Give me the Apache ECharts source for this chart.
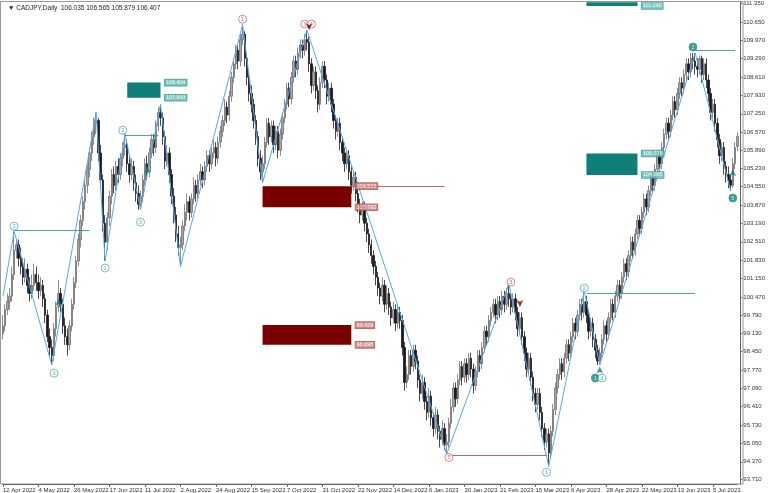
<!DOCTYPE html>
<html><head><meta charset="utf-8">
<script src="https://cdn.jsdelivr.net/npm/echarts@6/dist/echarts.min.js"></script>
<style>html,body{margin:0;padding:0;background:#fff}#c{width:768px;height:493px}</style>
</head><body><div id="c"></div>
<script>
const titleText = '\u25BC CADJPY,Daily  106.035 106.565 105.879 106.407';
const yTicks = [111.350,110.650,109.970,109.290,108.610,107.930,107.250,106.570,105.890,105.230,104.550,103.870,103.190,102.510,101.830,101.150,100.470,99.790,99.130,98.450,97.770,97.090,96.410,95.730,95.050,94.370,93.710];
const holidays = ['2022-12-26'];
// [open, high, low, close]
const bars2022 = [
[99.1,99.8,98.9,99.4],[99.4,100.2,99.2,100.0],[100.0,100.6,99.8,100.3],[100.3,100.8,100.0,100.5],[100.5,101.6,100.3,101.3],
[101.3,102.9,101.1,102.2],[102.2,102.6,101.9,102.4],[102.4,102.6,101.6,101.9],[101.9,102.3,101.3,101.6],[101.6,101.9,100.9,101.2],
[101.2,101.9,101.0,101.5],[101.5,101.7,100.6,100.9],[100.9,101.2,100.3,100.6],[100.6,101.3,100.4,100.9],[100.9,101.7,100.7,101.3],
[101.3,101.6,100.7,101.0],[101.0,101.3,100.4,100.7],[100.7,101.2,100.5,100.9],[100.9,101.1,100.1,100.4],[100.4,100.6,99.5,99.8],
[99.8,100.0,98.8,99.0],[99.0,99.3,98.3,98.6],[98.6,98.9,97.95,98.3],[98.3,99.5,98.1,99.3],[99.3,100.3,99.0,100.1],
[100.1,101.1,99.9,100.6],[100.6,100.8,99.9,100.2],[100.2,100.4,99.1,99.4],[99.4,99.7,98.7,99.0],[99.0,99.3,98.3,98.7],
[98.7,99.6,98.5,99.4],[99.4,100.4,99.2,100.2],[100.2,101.2,100.0,101.0],[101.0,102.0,100.8,101.8],[101.8,102.8,101.6,102.6],
[102.6,103.5,102.3,103.3],[103.3,104.2,103.1,104.0],[104.0,104.8,103.7,104.6],[104.6,105.4,104.3,105.2],[105.2,106.0,104.9,105.8],
[105.8,106.6,105.5,106.4],[106.4,107.1,106.1,106.9],[106.9,107.3,106.5,107.0],[107.0,107.1,105.5,105.8],[105.8,106.1,104.5,104.8],
[104.8,105.0,102.9,103.2],[103.2,103.5,101.8,102.5],[102.5,103.6,102.2,103.4],[103.4,104.4,103.1,104.2],[104.2,105.2,103.9,105.0],
[105.0,105.3,104.3,104.6],[104.6,105.5,104.4,105.3],[105.3,105.6,104.7,105.0],[105.0,105.8,104.8,105.6],[105.6,106.2,105.3,106.0],
[106.0,106.5,105.7,106.1],[106.1,106.3,105.1,105.4],[105.4,105.7,104.7,105.0],[105.0,105.6,104.8,105.3],[105.3,105.5,104.4,104.7],
[104.7,105.0,104.0,104.3],[104.3,104.6,103.7,103.9],[103.9,104.4,103.7,104.2],[104.2,105.0,104.0,104.8],[104.8,105.6,104.6,105.4],
[105.4,105.7,104.8,105.1],[105.1,106.0,104.9,105.8],[105.8,106.5,105.6,106.3],[106.3,106.5,105.7,106.0],[106.0,107.0,105.8,106.8],
[106.8,107.5,106.6,107.3],[107.3,107.6,106.8,107.1],[107.1,107.3,106.1,106.4],[106.4,106.6,105.2,105.5],[105.5,106.1,105.3,105.8],
[105.8,106.0,104.7,105.0],[105.0,105.2,103.9,104.2],[104.2,104.5,103.2,103.5],[103.5,103.8,102.5,102.8],[102.8,103.1,102.0,102.3],
[102.3,102.7,101.6,102.4],[102.4,103.3,102.2,103.1],[103.1,103.9,102.9,103.6],[103.6,104.3,103.3,104.0],[104.0,104.2,103.3,103.6],
[103.6,104.3,103.4,104.1],[104.1,104.9,103.9,104.6],[104.6,104.8,104.0,104.3],[104.3,105.0,104.1,104.8],[104.8,105.4,104.6,105.1],
[105.1,105.3,104.5,104.8],[104.8,105.5,104.6,105.3],[105.3,105.9,105.1,105.7],[105.7,105.9,105.1,105.4],[105.4,106.0,105.2,105.8],
[105.8,106.3,105.6,106.0],[106.0,106.2,105.3,105.6],[105.6,106.4,105.4,106.2],[106.2,106.8,106.0,106.6],[106.6,107.2,106.4,107.0],
[107.0,107.8,106.8,107.5],[107.5,107.7,106.9,107.2],[107.2,108.1,107.0,107.9],[107.9,108.8,107.7,108.6],[108.6,109.3,108.4,109.1],
[109.1,109.8,108.9,109.6],[109.6,109.8,108.9,109.2],[109.2,110.2,109.0,110.0],[110.0,110.55,109.8,110.2],[110.2,110.3,109.0,109.3],
[109.3,109.5,108.3,108.6],[108.6,108.8,107.7,108.0],[108.0,108.3,107.3,107.6],[107.6,107.8,106.7,107.0],[107.0,107.2,106.1,106.4],
[106.4,106.6,105.3,105.6],[105.6,105.9,104.8,105.1],[105.1,105.7,104.7,105.4],[105.4,106.4,105.2,106.2],[106.2,107.1,106.0,106.9],
[106.9,107.1,106.1,106.4],[106.4,107.0,106.2,106.8],[106.8,107.0,105.8,106.1],[106.1,106.8,105.9,106.6],[106.6,106.8,105.6,105.9],
[105.9,106.7,105.7,106.5],[106.5,107.3,106.3,107.1],[107.1,107.8,106.9,107.6],[107.6,108.4,107.4,108.2],[108.2,108.4,107.5,107.8],
[107.8,108.8,107.6,108.6],[108.6,109.4,108.4,109.2],[109.2,109.4,108.6,108.9],[108.9,109.7,108.7,109.5],[109.5,110.0,109.3,109.8],
[109.8,110.0,109.3,109.6],[109.6,110.2,109.4,110.0],[110.0,110.35,109.6,109.9],[109.9,110.1,108.8,109.1],[109.1,109.3,108.0,108.3],
[108.3,109.0,108.1,108.8],[108.8,109.0,107.8,108.1],[108.1,108.3,107.3,107.6],[107.6,108.6,107.4,108.4],[108.4,109.2,108.2,109.0],
[109.0,109.2,108.2,108.5],[108.5,108.7,107.6,107.9],[107.9,108.4,107.7,108.2],[108.2,108.4,107.3,107.6],[107.6,107.8,106.7,107.0],
[107.0,107.2,106.3,106.6],[106.6,107.1,106.4,106.9],[106.9,107.1,105.9,106.2],[106.2,106.4,105.5,105.8],[105.8,106.0,105.1,105.4],
[105.4,105.9,105.2,105.7],[105.7,105.9,104.8,105.1],[105.1,105.3,104.3,104.6],[104.6,105.1,104.4,104.9],[104.9,105.1,104.0,104.3],
[104.3,104.5,103.6,103.9],[103.9,104.1,103.2,103.5],[103.5,104.0,103.3,103.8],[103.8,104.0,102.9,103.2],[103.2,103.4,102.5,102.8],
[102.8,103.0,102.1,102.4],[102.4,102.6,101.7,102.0],[102.0,102.2,101.3,101.6],[101.6,101.8,100.9,101.2],[101.2,101.4,100.5,100.8],
[100.8,101.0,100.2,100.5],[100.5,101.2,100.3,100.9],[100.9,101.1,99.9,100.2],[100.2,100.9,100.0,100.6],[100.6,100.8,99.8,100.1],
[100.1,100.3,99.4,99.7],[99.7,100.3,99.5,100.0],[100.0,100.2,99.2,99.5],[99.5,100.2,99.3,99.9],[99.9,100.1,99.3,99.6],
[99.6,99.8,98.3,98.6],[98.6,98.8,97.0,97.3],[97.3,97.9,97.1,97.6],[97.6,98.5,97.4,98.3],[98.3,98.5,97.6,97.9],
[97.9,98.7,97.7,98.5],[98.5,98.7,97.8,98.1],[98.1,98.3,97.1,97.4]
];
const bars2023 = [
[97.4,97.6,96.6,96.9],[96.9,97.6,96.7,97.3],[97.3,97.5,96.3,96.6],[96.6,96.8,95.9,96.2],[96.2,97.1,96.0,96.8],
[96.8,97.0,95.7,96.0],[96.0,96.2,95.3,95.6],[95.6,96.4,95.4,96.1],[96.1,96.3,95.2,95.5],[95.5,95.7,94.9,95.2],
[95.2,95.9,95.0,95.6],[95.6,95.8,94.8,95.0],[95.0,95.4,94.65,95.1],[95.1,96.0,94.9,95.8],[95.8,96.7,95.6,96.4],
[96.4,97.3,96.2,97.1],[97.1,97.3,96.4,96.7],[96.7,97.6,96.5,97.4],[97.4,98.1,97.2,97.9],[97.9,98.1,97.2,97.5],
[97.5,98.2,97.3,98.0],[98.0,98.2,97.3,97.6],[97.6,98.4,97.4,98.2],[98.2,98.4,97.5,97.8],[97.8,98.0,96.9,97.2],
[97.2,97.9,97.0,97.7],[97.7,98.5,97.5,98.3],[98.3,98.5,97.7,98.0],[98.0,98.8,97.8,98.6],[98.6,99.4,98.4,99.2],
[99.2,99.4,98.7,99.0],[99.0,99.8,98.8,99.6],[99.6,100.1,99.4,99.9],[99.9,100.4,99.7,100.2],[100.2,100.4,99.5,99.8],
[99.8,100.5,99.6,100.3],[100.3,100.5,99.7,100.0],[100.0,100.7,99.8,100.5],[100.5,100.7,99.9,100.2],[100.2,100.8,100.0,100.6],
[100.6,100.95,100.1,100.4],[100.4,100.6,99.8,100.1],[100.1,100.6,99.9,100.4],[100.4,100.6,99.6,99.9],[99.9,100.1,99.0,99.3],
[99.3,99.9,99.1,99.7],[99.7,99.9,98.7,99.0],[99.0,99.2,98.1,98.4],[98.4,98.6,97.5,97.8],[97.8,98.4,97.6,98.2],
[98.2,98.4,97.2,97.5],[97.5,97.7,96.6,96.9],[96.9,97.1,96.2,96.5],[96.5,97.1,96.3,96.9],[96.9,97.1,95.9,96.2],
[96.2,96.4,95.3,95.6],[95.6,95.8,94.8,95.1],[95.1,95.6,94.9,95.4],[95.4,95.6,94.2,94.7],[94.7,95.7,94.5,95.5],
[95.5,96.5,95.3,96.3],[96.3,97.3,96.1,97.1],[97.1,97.8,96.9,97.6],[97.6,98.2,97.4,98.0],[98.0,98.2,97.4,97.7],
[97.7,98.4,97.5,98.2],[98.2,98.9,98.0,98.7],[98.7,98.9,98.1,98.4],[98.4,99.2,98.2,99.0],[99.0,99.7,98.8,99.5],
[99.5,99.7,98.9,99.2],[99.2,100.0,99.0,99.8],[99.8,100.4,99.6,100.2],[100.2,100.4,99.6,99.9],[99.9,100.7,99.7,100.3],
[100.3,100.5,99.5,99.8],[99.8,100.0,98.9,99.2],[99.2,99.7,99.0,99.5],[99.5,99.7,98.6,98.9],[98.9,99.1,98.2,98.5],
[98.5,98.7,97.95,98.1],[98.1,98.6,97.95,98.4],[98.4,99.1,98.2,98.9],[98.9,99.6,98.7,99.4],[99.4,99.6,98.8,99.1],
[99.1,99.9,98.9,99.7],[99.7,100.4,99.5,100.2],[100.2,100.4,99.6,99.9],[99.9,100.7,99.7,100.5],[100.5,101.1,100.3,100.9],
[100.9,101.1,100.3,100.6],[100.6,101.4,100.4,101.2],[101.2,101.9,101.0,101.7],[101.7,101.9,101.1,101.4],[101.4,102.2,101.2,102.0],
[102.0,102.7,101.8,102.5],[102.5,102.7,101.9,102.2],[102.2,103.0,102.0,102.8],[102.8,103.5,102.6,103.3],[103.3,103.5,102.7,103.0],
[103.0,103.8,102.8,103.6],[103.6,104.3,103.4,104.1],[104.1,104.3,103.5,103.8],[103.8,104.6,103.6,104.4],[104.4,105.1,104.2,104.9],
[104.9,105.1,104.3,104.6],[104.6,105.4,104.4,105.2],[105.2,105.9,105.0,105.7],[105.7,105.9,105.1,105.4],[105.4,106.2,105.2,106.0],
[106.0,106.7,105.8,106.5],[106.5,107.1,106.3,106.9],[106.9,107.1,106.3,106.6],[106.6,107.4,106.4,107.2],[107.2,107.9,107.0,107.7],
[107.7,107.9,107.1,107.4],[107.4,108.2,107.2,108.0],[108.0,108.6,107.8,108.4],[108.4,108.6,107.9,108.2],[108.2,108.9,108.0,108.7],
[108.7,109.3,108.5,109.1],[109.1,109.3,108.5,108.8],[108.8,109.5,108.6,109.3],[109.3,109.5,108.9,109.2],[109.2,109.5,108.7,109.0],
[109.0,109.3,108.6,108.9],[108.9,109.4,108.7,109.3],[109.3,109.4,108.4,108.7],[108.7,109.3,108.5,109.1],[109.1,109.3,108.2,108.5],
[108.5,108.7,107.7,108.0],[108.0,108.2,107.0,107.3],[107.3,107.8,107.1,107.6],[107.6,107.8,106.6,106.9],[106.9,107.1,106.0,106.3],
[106.3,106.5,105.4,105.7],[105.7,106.2,105.5,106.0],[106.0,106.2,105.0,105.3],[105.3,105.5,104.7,105.0],[105.0,105.3,104.5,104.8],
[104.8,105.0,104.4,104.6],[104.6,105.6,104.5,105.4],[105.4,106.2,105.2,106.0],[106.035,106.565,105.879,106.407]
];
// zigzag swing points [barIndex, price]
const zigzag = [[0,100.5],[5,102.9],[22,97.95],[42,107.3],[46,101.8],[55,106.5],[62,103.7],[71,107.6],[80,101.6],[108,110.55],[117,104.7],[137,110.35],[200,94.65],[228,100.95],[246,94.2],[262,100.7],[269,97.95],[312,109.5],[328,104.4]];
// wave labels [barIndex, price, text, style]
const waveLabels = [[5,103.09,'2','t'],[23,97.65,'3','t'],[46,101.54,'1','t'],[54,106.64,'2','t'],[62,103.24,'3','t'],
[108,110.75,'1','r'],[136,110.57,'3','r'],[139,110.57,'4','r'],[201,94.53,'5','r'],[229,101.02,'3','r'],
[245,93.98,'1','t'],[262,100.80,'2','t'],[267,97.47,'1','f'],[270,97.47,'3','t'],[311,109.72,'2','f'],[329,104.13,'5','f']];
// arrows [barIndex, price, direction, style]
const arrows = [[138,110.34,'down','r'],[233,100.1,'down','r'],[25,100.4,'up','t'],[65,105.3,'up','t'],[269,97.9,'up','t'],[329,105.2,'up','t']];
// horizontal levels [fromIndex, toIndex, price, style]
const hLines = [[5,39,102.94,'t'],[55,70,106.46,'t'],[157,199,104.572,'r'],[201,245,94.62,'r'],[263,312,100.61,'t'],[312,330,109.6,'t']];
// zones [fromIndex, toIndex, low, high, style]
const zones = [[56,71,107.843,108.404,'t'],[117,157,103.792,104.572,'r'],[117,157,98.698,99.429,'r'],[263,286,104.985,105.779,'t'],[263,286,111.240,111.38,'t']];
// price tags [barIndex, price, text, style]
const tags = [[72,108.404,'108.404','t'],[72,107.843,'107.843','t'],[158,104.572,'104.572','r'],[158,103.792,'103.792','r'],[158,99.429,'99.429','r'],[158,98.698,'98.698','r'],[287,105.779,'105.779','t'],[287,104.985,'104.985','t'],[287,111.240,'111.240','t']];
const lastPrice = 106.407;

const MONTHS=['Jan','Feb','Mar','Apr','May','Jun','Jul','Aug','Sep','Oct','Nov','Dec'];
const bars = bars2022.concat(bars2023);
const dates=[]; let d=new Date(Date.UTC(2022,3,12));
while(dates.length<bars.length){const wd=d.getUTCDay();const key=d.toISOString().slice(0,10);
 if(wd!==0&&wd!==6&&holidays.indexOf(key)<0)dates.push(d.getUTCDate()+' '+MONTHS[d.getUTCMonth()]+' '+d.getUTCFullYear());
 d=new Date(d.getTime()+86400000);}
const TEAL='#2f9a93', TEALD='#0f7f78', RED='#b84a44', REDD='#7a0000', BLUE='#55a8f5';
const col = s => s==='r'?RED:TEAL;
const zz = new Array(bars.length).fill(null); zigzag.forEach(p=>zz[p[0]]=p[1]);
const FONT='Liberation Sans';

const chart = echarts.init(document.getElementById('c'));
chart.setOption({
 animation:false,
 textStyle:{fontFamily:FONT},
 title:{text:titleText,left:3,top:0,textStyle:{fontSize:6.5,fontWeight:'normal',color:'#222',fontFamily:FONT}},
 grid:{left:2,right:28,top:2,bottom:9},
 xAxis:{type:'category',data:dates,boundaryGap:false,
   axisLine:{lineStyle:{color:'#666',width:1}},
   axisTick:{interval:15,length:3,lineStyle:{color:'#666'}},
   axisLabel:{interval:15,fontSize:6,color:'#333',align:'left',margin:3,fontFamily:FONT},
   splitLine:{show:false}},
 yAxis:{type:'value',position:'right',offset:3,min:93.547,max:111.38,scale:true,
   axisLine:{show:true,lineStyle:{color:'#666'}},
   axisTick:{show:true,length:2,customValues:yTicks,lineStyle:{color:'#666'}},
   axisLabel:{customValues:yTicks,formatter:v=>v.toFixed(3),fontSize:6,color:'#333',margin:3,fontFamily:FONT},
   splitLine:{show:false}},
 graphic:[{type:'rect',shape:{x:0.5,y:1.5,width:742.5,height:482.5},style:{fill:'none',stroke:'#999',lineWidth:1},silent:true,z:-1}],
 series:[
  {type:'candlestick',barWidth:1.9,
   data:bars.map(b=>[b[0],b[3],b[2],b[1]]),
   itemStyle:{color:'#a8a8a8',color0:'#1a1a1a',borderColor:'#707070',borderColor0:'#1a1a1a',borderWidth:0.8},
   markArea:{silent:true,data:zones.map(z=>[{coord:[z[0],z[3]],itemStyle:{color:z[4]==='r'?REDD:TEALD,opacity:1}},{coord:[z[1],z[2]]}])},
   markLine:{silent:true,symbol:'none',
     data:hLines.map(h=>[{coord:[h[0],h[2]],lineStyle:{color:col(h[3]),width:1,type:'solid',opacity:0.85}},{coord:[h[1],h[2]]}])
       .concat([{yAxis:lastPrice,lineStyle:{opacity:0},label:{show:true,position:'end',distance:4,formatter:lastPrice.toFixed(3),backgroundColor:'#000',color:'#fff',fontSize:6,padding:[1,2],fontFamily:FONT}}]),
     label:{show:false}}},
  {type:'line',data:zz,connectNulls:true,symbol:'none',lineStyle:{color:BLUE,width:1},z:3},
  {type:'scatter',z:5,data:waveLabels.map(w=>({value:[w[0],w[1]],
     itemStyle:{color:w[3]==='f'?TEALD:'#fff',borderColor:col(w[3]),borderWidth:0.8},
     label:{show:true,position:'inside',formatter:w[2],fontSize:5.5,color:w[3]==='f'?'#fff':col(w[3]),fontFamily:FONT}})),
   symbol:'circle',symbolSize:8},
  {type:'scatter',z:5,data:arrows.map(a=>({value:[a[0],a[1]],symbolRotate:a[2]==='down'?180:0,itemStyle:{color:a[3]==='r'?REDD:TEALD}})),
   symbol:'arrow',symbolSize:[5,7]},
  {type:'scatter',z:6,data:tags.map(t=>({value:[t[0],t[1]],
     label:{show:true,position:'right',distance:2,formatter:t[2],fontSize:5.5,color:'#fff',backgroundColor:t[3]==='r'?'#c98484':'#6dbdb7',borderColor:col(t[3]),borderWidth:0.8,padding:[0,1],fontFamily:FONT}})),
   symbolSize:0}
 ]
});
</script></body></html>
